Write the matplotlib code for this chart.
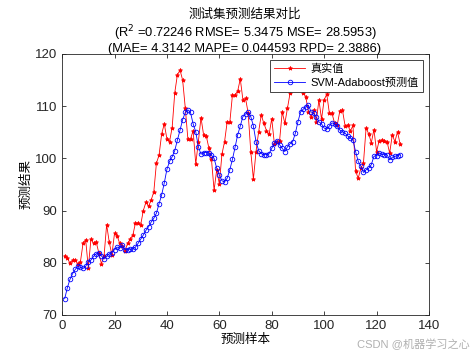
import matplotlib
matplotlib.use('Agg')
import matplotlib.pyplot as plt
import numpy as np

plt.rcParams['font.family'] = ['Liberation Sans', 'Noto Sans CJK SC', 'DejaVu Sans']
plt.rcParams['axes.unicode_minus'] = False

# test-set true values (red) and SVM-Adaboost predictions (blue), samples 1..129
true_vals = [
    81.3, 80.9, 79.9, 80.5, 80.5, 79.8, 80.2, 83.7, 84.4, 79.0,
    84.5, 83.7, 84.0, 81.9, 79.8, 81.2, 87.3, 83.9, 81.5, 85.6,
    85.1, 83.7, 83.2, 82.3, 83.7, 84.5, 85.3, 87.6, 87.6, 87.3,
    90.0, 91.6, 90.8, 92.0, 93.6, 99.1, 100.6, 104.7, 106.6, 103.7,
    103.2, 105.9, 112.6, 116.0, 116.9, 115.0, 109.7, 103.7, 103.7, 105.3,
    98.9, 103.2, 107.8, 104.5, 104.3, 102.0, 99.8, 93.9, 97.8, 95.1,
    100.8, 103.2, 107.0, 106.9, 112.1, 112.1, 112.9, 115.2, 111.2, 111.5,
    108.7, 101.3, 96.0, 101.3, 105.1, 108.3, 106.7, 105.3, 104.6, 107.6,
    102.8, 103.2, 103.4, 108.9, 106.7, 109.6, 112.5, 114.4, 116.0, 115.2,
    113.0, 112.6, 111.8, 108.9, 108.0, 109.3, 107.0, 111.2, 107.5, 111.2,
    112.3, 108.6, 108.6, 106.7, 106.4, 109.1, 109.2, 106.2, 106.4, 105.2,
    106.3, 97.5, 96.2, 98.1, 99.1, 105.8, 104.7, 103.0, 105.5, 101.3,
    103.4, 103.5, 103.4, 103.2, 101.0, 104.5, 103.2, 105.1, 102.7,
]
pred_vals = [
    73.1, 75.2, 76.8, 77.9, 78.7, 79.3, 79.1, 78.9, 79.3, 80.2,
    80.5, 81.2, 81.7, 81.9, 81.3, 80.7, 81.2, 81.7, 81.9, 82.5,
    83.0, 82.8, 83.4, 82.5, 82.5, 82.6, 82.6, 83.0, 83.7, 84.5,
    85.3, 86.2, 86.9, 87.8, 88.5, 89.5, 91.3, 93.0, 95.3, 97.9,
    99.4, 100.3, 101.5, 103.5, 105.4, 107.4, 108.8, 109.3, 108.8, 106.6,
    105.1, 102.2, 100.8, 101.1, 101.1, 101.0, 100.6, 100.0, 98.1, 96.8,
    95.7, 95.5, 96.2, 97.8, 99.8, 102.1, 104.5, 106.2, 108.0, 108.5,
    108.8, 108.0, 106.2, 103.2, 101.5, 100.9, 100.7, 100.7, 100.9, 101.9,
    102.9, 103.4, 102.6, 101.9, 101.3, 102.2, 102.8, 103.2, 104.8, 107.0,
    108.9, 109.4, 109.9, 110.2, 108.9, 108.6, 107.9, 107.0, 106.6, 105.8,
    105.6, 106.2, 106.8, 106.6, 106.1, 105.4, 105.1, 104.8, 104.3, 103.9,
    103.5, 101.3, 99.4, 98.5, 97.3, 97.8, 98.1, 98.8, 100.4, 100.5,
    101.0, 100.8, 100.7, 100.7, 99.7, 100.2, 100.4, 100.5, 100.7,
]
samples = np.arange(1, len(true_vals) + 1)

x_ticks = [0, 20, 40, 60, 80, 100, 120, 140]
y_ticks = [70, 80, 90, 100, 110, 120]

fig = plt.figure(figsize=(4.74, 3.55), dpi=100)
ax = fig.add_axes([0.131, 0.113, 0.774, 0.735])

ax.plot(samples, true_vals, '-*', color='red', lw=0.6, ms=3, mew=0.6,
        label='真实值')
ax.plot(samples, pred_vals, '-o', color='blue', lw=0.6, ms=3.3,
        mfc='none', mew=0.6, label='SVM-Adaboost预测值')

ax.set_xlim(0, 140)
ax.set_ylim(70, 120)
ax.set_xticks(x_ticks)
ax.set_yticks(y_ticks)
ax.tick_params(direction='in', top=True, right=True, labelsize=9.5,
               length=3, width=0.6, colors='#262626')
for s in ax.spines.values():
    s.set_color('#262626')
    s.set_linewidth(0.6)

ax.set_xlabel('预测样本', fontsize=9, family=['Noto Sans CJK SC'], labelpad=1)
ax.set_ylabel('预测结果', fontsize=9, family=['Noto Sans CJK SC'], labelpad=2)

fig.text(0.517, 0.96, '测试集预测结果对比', ha='center', va='center',
         fontsize=9, family=['Noto Sans CJK SC'])
fig.text(0.517, 0.907, '(R$^2$ =0.72246 RMSE= 5.3475 MSE= 28.5953)',
         ha='center', va='center', fontsize=9.3)
fig.text(0.517, 0.862, '(MAE= 4.3142 MAPE= 0.044593 RPD= 2.3886)',
         ha='center', va='center', fontsize=9.3)

leg = ax.legend(loc='upper right', fontsize=8, handlelength=2.8,
                handletextpad=0.5, fancybox=False, framealpha=1,
                edgecolor='#262626', borderpad=0.4, labelspacing=0.3,
                borderaxespad=0.5)
leg.get_frame().set_linewidth(0.6)

fig.text(0.99, 0.03, 'CSDN @机器学习之心', ha='right', va='center',
         fontsize=8, color='#b0b0b0')

fig.savefig('out.png', dpi=100, facecolor='white')
